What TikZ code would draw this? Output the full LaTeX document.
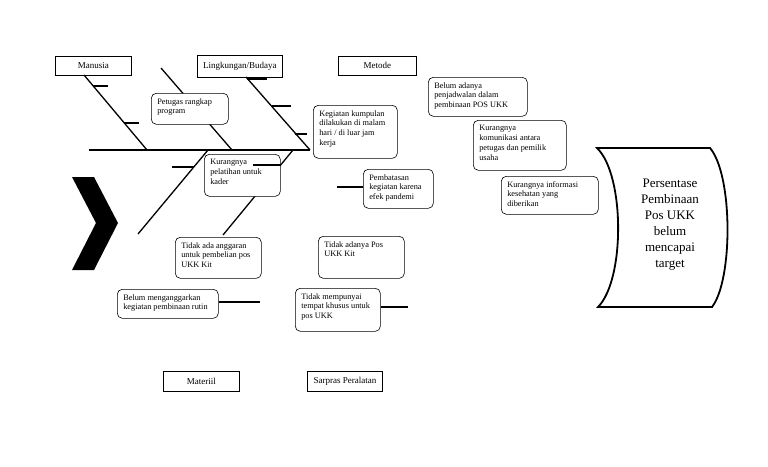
\documentclass[tikz,border=0pt]{standalone}
\usepackage{fontspec}
\setmainfont{Liberation Serif}
\begin{document}
\begin{tikzpicture}[x=1pt,y=-1pt,
  cat/.style={draw, line width=0.8pt, fill=white, anchor=north west, inner sep=0pt, font=\fontsize{9}{10}\selectfont},
  tbox/.style={draw, line width=0.6pt, rounded corners=5pt, fill=white, anchor=north west, inner xsep=6pt, inner ysep=5pt, font=\fontsize{8.3}{9.8}\selectfont},
  bone/.style={line width=1.3pt},
  spine/.style={line width=2.4pt},
  twig/.style={line width=1.1pt},
  twigb/.style={line width=2pt}]
\useasboundingbox (0,0) rectangle (768,466);

% chevron
\fill[black] (72,177) -- (94,177) -- (118,223) -- (94,270) -- (72,270) -- (96,223) -- cycle;

% spine coordinates
\coordinate (sp0) at (89,150);
\coordinate (sp1) at (147,150);
\coordinate (sp2) at (232,150);
\coordinate (sp3) at (310,150);
\coordinate (sl1) at (208,150);
\coordinate (sl2) at (293,150);
\coordinate (b2top) at (161,68);
\coordinate (l1end) at (138,234);
\coordinate (l2end) at (223,235);

% category boxes
\node[cat, minimum width=76pt, minimum height=19pt] (man) at (55,56) {Manusia};
\node[cat, minimum width=85pt, minimum height=22pt] (ling) at (197,55) {Lingkungan/Budaya};
\node[cat, minimum width=78pt, minimum height=19pt] (met) at (338,56) {Metode};
\node[cat, minimum width=76pt, minimum height=20pt] (mat) at (163,371) {Materiil};
\node[cat, minimum width=75pt, minimum height=20pt] (sar) at (307,371) {Sarpras Peralatan};

% bones
\draw[spine] (sp0) -- (sp3);
\draw[bone] (84,75) coordinate (manb) -- (sp1);
\draw[bone] (b2top) -- (sp2);
\draw[bone] (246,77) coordinate (lingb) -- (sp3);
\draw[bone] (sl1) -- (l1end);
\draw[bone] (sl2) -- (l2end);

% twigs
\draw[twig] (93,86) -- (108,86);
\draw[twig] (124,123) -- (139,123);
\draw[twigb] (247,79) -- (267,79);
\draw[twig] (272,106) -- (291,106);
\draw[twigb] (295,134) -- (307,134);
\draw[twig] (172,167) -- (194,167);

% cause boxes
\node[tbox] (petugas) at (151,93) {\parbox[t][21pt][t]{65pt}{\raggedright Petugas rangkap\\program}};
\node[tbox] (kegiatan) at (313,105) {\parbox[t][43pt][t]{72pt}{\raggedright Kegiatan kumpulan\\dilakukan di malam\\hari / di luar jam\\kerja}};
\node[tbox] (pelatihan) at (204,154) {\parbox[t][32pt][t]{64pt}{\raggedright Kurangnya\\pelatihan untuk\\kader}};
\node[tbox] (pembatasan) at (363,169) {\parbox[t][29pt][t]{58pt}{\raggedright Pembatasan\\kegiatan karena\\efek pandemi}};
\node[tbox] (jadwal) at (428,77) {\parbox[t][29pt][t]{87pt}{\raggedright Belum adanya\\penjadwalan dalam\\pembinaan POS UKK}};
\node[tbox] (komunikasi) at (473,120) {\parbox[t][40pt][t]{81pt}{\raggedright Kurangnya\\komunikasi antara\\petugas dan pemilik\\usaha}};
\node[tbox] (informasi) at (501,176) {\parbox[t][28pt][t]{85pt}{\raggedright Kurangnya informasi\\kesehatan yang\\diberikan}};
\node[tbox] (anggaran) at (175,237) {\parbox[t][31pt][t]{74pt}{\raggedright Tidak ada anggaran\\untuk pembelian pos\\UKK Kit}};
\node[tbox] (poskit) at (318,236) {\parbox[t][32pt][t]{74pt}{\raggedright Tidak adanya Pos\\UKK Kit}};
\node[tbox] (rutin) at (117,289) {\parbox[t][19pt][t]{89pt}{\raggedright Belum menganggarkan\\kegiatan pembinaan rutin}};
\node[tbox] (tempat) at (295,288) {\parbox[t][33pt][t]{73pt}{\raggedright Tidak mempunyai\\tempat khusus untuk\\pos UKK}};

% twig over pelatihan box
\draw[twig] (253,165) -- (281,165);

% connectors
\coordinate (pbend) at (337,187);
\coordinate (rutend) at (260,302);
\coordinate (tmpend) at (408,307);
\draw[twigb] (pbend) -- (pembatasan.west |- pbend);
\draw[twigb] (rutin.east |- rutend) -- (rutend);
\draw[twig] (tempat.east |- tmpend) -- (tmpend);

% head
\draw[line width=1.8pt] (597,148) .. controls (625,175) and (625,280) .. (598,307)
  -- (712,307) .. controls (733,280) and (733,175) .. (710,148) -- cycle;
\node[align=center, font=\fontsize{13}{16}\selectfont] (head) at (670,225) {Persentase\\Pembinaan\\Pos UKK\\belum\\mencapai\\target};
\end{tikzpicture}
\end{document}
